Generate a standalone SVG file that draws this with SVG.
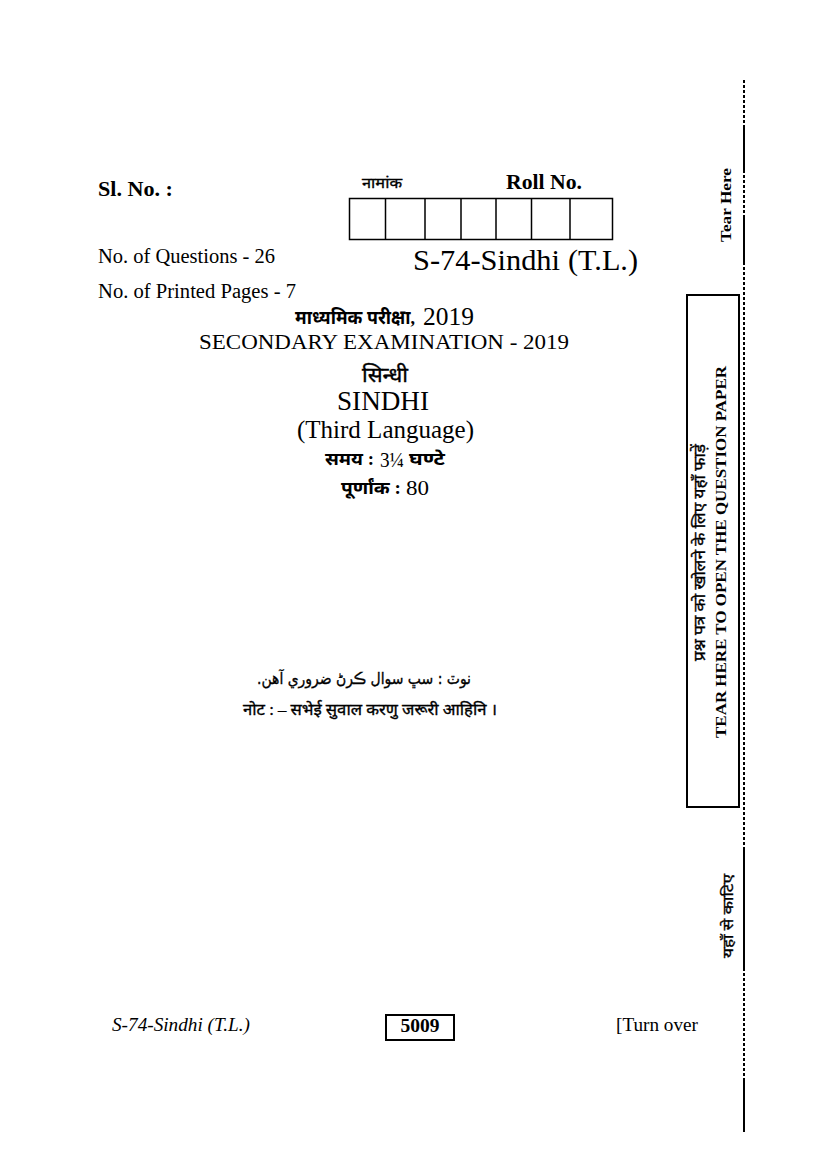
<svg xmlns="http://www.w3.org/2000/svg" width="827" height="1170" viewBox="0 0 827 1170">
<style>
text{font-family:"Liberation Serif","Noto Sans","Noto Sans CJK SC",serif;fill:#000}
.b{font-weight:bold}
.i{font-style:italic}
.m{text-anchor:middle}
.h{stroke:#000;stroke-width:.35}
.box{fill:none;stroke:#000}
.tear{stroke:#000;stroke-width:2;fill:none}
.dash{stroke-dasharray:3 2}
</style>
<rect width="827" height="1170" fill="#fff"/>
<g id="header">
<text x="98" y="196" font-size="20" class="b" textLength="75" lengthAdjust="spacingAndGlyphs">Sl. No. :</text>
<text x="362" y="188" font-size="15" class="h" textLength="40" lengthAdjust="spacingAndGlyphs">नामांक</text>
<text x="506" y="189" font-size="20" class="b" textLength="76" lengthAdjust="spacingAndGlyphs">Roll No.</text>
<g id="roll-boxes">
<rect class="box" x="349.500" y="198.500" width="263" height="41" stroke-width="1.500"/>
<path class="box" stroke-width="1.500" d="M385.500 198V240M425 198V240M461 198V240M496 198V240M531.500 198V240M570 198V240"/>
</g>
<text x="98" y="263" font-size="20.500" textLength="177" lengthAdjust="spacingAndGlyphs">No. of Questions - 26</text>
<text x="413" y="270" font-size="30" textLength="147" lengthAdjust="spacingAndGlyphs">S-74-Sindhi</text>
<text x="568" y="270" font-size="30" textLength="70" lengthAdjust="spacingAndGlyphs">(T.L.)</text>
<text x="98" y="298" font-size="20.500" textLength="198" lengthAdjust="spacingAndGlyphs">No. of Printed Pages - 7</text>
</g>
<g id="title">
<text x="295" y="324" font-size="19" class="b" textLength="120" lengthAdjust="spacingAndGlyphs">माध्यमिक परीक्षा,</text>
<text x="423" y="325" font-size="25" textLength="51" lengthAdjust="spacingAndGlyphs">2019</text>
<text x="199" y="349" font-size="21.500" textLength="370" lengthAdjust="spacingAndGlyphs">SECONDARY EXAMINATION - 2019</text>
<text x="362" y="382" font-size="20" class="h" textLength="46" lengthAdjust="spacingAndGlyphs">सिन्धी</text>
<text x="337" y="410" font-size="28" textLength="92" lengthAdjust="spacingAndGlyphs">SINDHI</text>
<text x="297" y="438" font-size="24.500" textLength="177" lengthAdjust="spacingAndGlyphs">(Third Language)</text>
<text x="325" y="465" font-size="18" class="b" textLength="49" lengthAdjust="spacingAndGlyphs">समय :</text>
<text x="380" y="467" font-size="21" textLength="24" lengthAdjust="spacingAndGlyphs">3¼</text>
<text x="409" y="465" font-size="18" class="b" textLength="36" lengthAdjust="spacingAndGlyphs">घण्टे</text>
<text x="341" y="494" font-size="18" class="b" textLength="60" lengthAdjust="spacingAndGlyphs">पूर्णांक :</text>
<text x="406" y="495" font-size="22" textLength="23" lengthAdjust="spacingAndGlyphs">80</text>
</g>
<g id="note">
<text x="364" y="684" font-size="16" class="m h" direction="rtl" style="font-family:'DejaVu Sans','Noto Sans',sans-serif" textLength="214" lengthAdjust="spacingAndGlyphs">نوٽ : سڀ سوال ڪرڻ ضروري آهن.</text>
<text x="243" y="715" font-size="16" class="h" textLength="254" lengthAdjust="spacingAndGlyphs">नोट : – सभेई सुवाल करणु जरूरी आहिनि ।</text>
</g>
<g id="tear-panel">
<rect class="box" x="687" y="295" width="52" height="512" stroke-width="2"/>
<text transform="translate(705 661) rotate(-90)" font-size="16" class="h" textLength="217" lengthAdjust="spacingAndGlyphs">प्रश्न पत्र को खोलने के लिए यहाँ फाड़ें</text>
<text transform="translate(726 738) rotate(-90)" font-size="15.500" class="b" textLength="372" lengthAdjust="spacingAndGlyphs">TEAR HERE TO OPEN THE QUESTION PAPER</text>
</g>
<g id="tear-line">
<path class="tear dash" d="M744 80V128M744 170V215M744 262V850M744 968V1080"/>
<path class="tear" d="M744 128V170M744 215V262M744 850V968M744 1080V1132"/>
<text transform="translate(731 242) rotate(-90)" font-size="15" class="b" textLength="74" lengthAdjust="spacingAndGlyphs">Tear Here</text>
<text transform="translate(733 958) rotate(-90)" font-size="15" class="h" textLength="84" lengthAdjust="spacingAndGlyphs">यहाँ से काटिए</text>
</g>
<g id="footer">
<text x="112" y="1031" font-size="18.500" class="i" textLength="138" lengthAdjust="spacingAndGlyphs">S-74-Sindhi (T.L.)</text>
<rect class="box" x="386" y="1015" width="68" height="25" stroke-width="2"/>
<text x="420" y="1032" font-size="18" class="b m" textLength="39" lengthAdjust="spacingAndGlyphs">5009</text>
<text x="616" y="1031" font-size="19.500" textLength="82" lengthAdjust="spacingAndGlyphs">[Turn over</text>
</g>
</svg>
